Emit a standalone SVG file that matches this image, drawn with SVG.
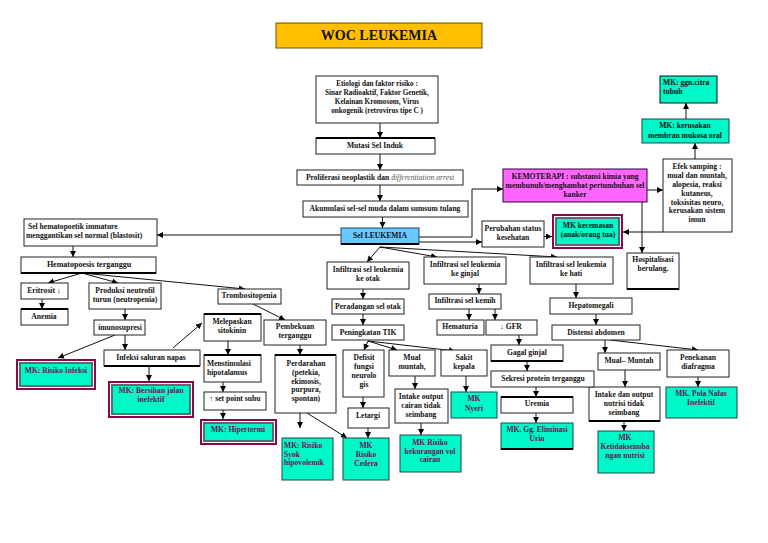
<svg xmlns="http://www.w3.org/2000/svg" width="768" height="543" viewBox="0 0 768 543">
<style>
rect{fill:#fff;stroke:#222;stroke-width:1}
.c{fill:#00f8c8;stroke:#1a4a50}
.f{fill:#00f8c8;stroke:#667;stroke-width:2}
.o{fill:#fff;stroke:#8a0a48;stroke-width:2}
.h{stroke:#000;stroke-width:2}
text{font-family:"Liberation Serif","Times New Roman",serif;font-size:7.600px;font-weight:bold;fill:#111;text-anchor:middle}
.m{fill:#701050}
.l{text-anchor:start}
#etiologi text{font-size:7.200px}
#hematopoesis text{font-size:8px}
#connectors path{fill:none;stroke:#111;stroke-width:1;marker-end:url(#a)}
</style>
<defs><marker id="a" markerUnits="userSpaceOnUse" markerWidth="7" markerHeight="7" refX="6" refY="3" orient="auto"><path d="M0 0L6 3L0 6Z" fill="#000" stroke="none"/></marker></defs>
<g id="connectors">
<path d="M380 123V138"/><path d="M380 154V170"/><path d="M380 185V201"/><path d="M382.500 217V228"/>
<path d="M341 235H157"/><path d="M419 237H472V189H503"/><path d="M419 242H482"/><path d="M544 236.500H552"/>
<path d="M663 232H623"/><path d="M647 190H663"/><path d="M642 202V253"/><path d="M695 159V143"/><path d="M686 119V103"/>
<path d="M380 247L367 262"/><path d="M380 247L437 257"/><path d="M380 247L557 257"/>
<path d="M363 289V299"/><path d="M363 314V325"/>
<path d="M368 341L364 350"/><path d="M368 341L397 350"/><path d="M368 341L455 351"/>
<path d="M363 397V408"/><path d="M368 428V438"/><path d="M415 376V389"/><path d="M421 423V435"/><path d="M466 376V392"/>
<path d="M479 284V294"/><path d="M469 309V320"/><path d="M495 309V320"/><path d="M519 335V345"/><path d="M527 361V371"/><path d="M536 387V397"/><path d="M536 413V423"/>
<path d="M576 284V298"/><path d="M596 314V325"/><path d="M605 340V353"/><path d="M610 340L698 350"/><path d="M625 370V387"/><path d="M624 421V431"/><path d="M698 377V387"/>
<path d="M73 246V257"/><path d="M82 273L48 283"/><path d="M82 273L118 283"/><path d="M82 273L245 289"/>
<path d="M42 299V309"/><path d="M125 309V320"/><path d="M125 335V350"/><path d="M115 335L58 358"/><path d="M149 366V381"/><path d="M173 348L202 323"/>
<path d="M228 341V355"/><path d="M223 382V392"/><path d="M223 410V419"/>
<path d="M253 304L285 320"/><path d="M300 345V355"/><path d="M300 413V428"/><path d="M307 413L347 438"/>
</g>
<g id="title"><rect x="276" y="23" width="206" height="25" style="fill:#ffbf00;stroke:#665000"/><text x="379" y="40" style="font-size:14px">WOC LEUKEMIA</text></g>
<g id="etiologi"><rect x="316" y="76" width="122" height="47"/><text x="377" y="86">Etiologi dan faktor risiko :</text><text x="377" y="95">Sinar Radioaktif, Faktor Genetik,</text><text x="377" y="104">Kelainan Kromosom, Virus</text><text x="377" y="113">onkogenik (retrovirus tipe C )</text></g>
<g id="mutasi"><rect x="316" y="138" width="119" height="16"/><path class="h" d="M316 138H435"/><text x="375" y="148">Mutasi Sel Induk</text></g>
<g id="proliferasi"><rect x="297" y="170" width="166" height="15"/><text x="380" y="180">Proliferasi neoplastik dan <tspan style="font-style:italic;font-weight:normal;fill:#555">differentiation  arrest</tspan></text></g>
<g id="akumulasi"><rect x="303" y="201" width="165" height="16"/><text x="385" y="211">Akumulasi sel-sel muda dalam sumsum tulang</text></g>
<g id="sel-leukemia"><rect x="341" y="228" width="78" height="16" style="fill:#66c8ff;stroke:#246"/><path class="h" d="M341 244H419"/><text x="380" y="238">Sel LEUKEMIA</text></g>
<g id="kemoterapi"><rect x="503" y="169" width="144" height="33" style="fill:#ff66ff;stroke:#303"/><text x="575" y="179">KEMOTERAPI : substansi kimia  yang</text><text x="575" y="188">membunuh/menghambat pertumbuhan sel</text><text x="575" y="197">kanker</text></g>
<g id="perubahan"><rect x="482" y="221" width="62" height="26"/><text x="513" y="231">Perubahan status</text><text x="513" y="240">kesehatan</text></g>
<g id="mk-kecemasan"><rect class="o" x="553" y="215" width="69" height="33"/><rect class="f" x="556" y="218" width="63" height="27"/><text x="588" y="228">MK kecemasan</text><text x="588" y="237">(anak/orang tua)</text></g>
<g id="efek"><rect x="663" y="159" width="69" height="73"/><text x="697" y="169">Efek samping :</text><text x="697" y="178">mual dan muntah,</text><text x="697" y="187">alopesia, reaksi</text><text x="697" y="196">kutaneus,</text><text x="697" y="205">toksisitas neuro,</text><text x="697" y="213">kerusakan sistem</text><text x="697" y="222">imun</text></g>
<g id="mk-kerusakan"><rect class="c" x="642" y="119" width="87" height="24"/><text x="685" y="128">MK: kerusakan</text><text x="685" y="138">membran mukosa oral</text></g>
<g id="mk-citra"><rect class="c" x="660" y="76" width="57" height="27" style="stroke:#111"/><text class="l" x="663" y="85">MK: ggn.citra</text><text class="l" x="663" y="94">tubuh</text></g>
<g id="hospitalisasi"><rect x="627" y="253" width="52" height="36"/><path class="h" d="M627 289H679"/><text x="653" y="262">Hospitalisasi</text><text x="653" y="271">berulang.</text></g>
<g id="inf-otak"><rect x="327" y="262" width="82" height="27"/><text x="368" y="272">Infiltrasi sel leukemia</text><text x="368" y="281">ke otak</text></g>
<g id="inf-ginjal"><rect x="424" y="257" width="82" height="27"/><text x="465" y="267">Infiltrasi sel leukemia</text><text x="465" y="276">ke ginjal</text></g>
<g id="inf-hati"><rect x="530" y="257" width="83" height="27"/><text x="571" y="267">Infiltrasi sel leukemia</text><text x="571" y="276">ke hati</text></g>
<g id="inf-kemih"><rect x="429" y="294" width="72" height="15"/><text x="465" y="303">Infiltrasi sel kemih</text></g>
<g id="hematuria"><rect x="437" y="320" width="47" height="15"/><text x="460" y="329">Hematuria</text></g>
<g id="gfr"><rect x="486" y="320" width="51" height="15"/><text x="511" y="329">↓ GFR</text></g>
<g id="peradangan"><rect x="332" y="299" width="72" height="15"/><text x="368" y="309">Peradangan sel otak</text></g>
<g id="tik"><rect x="332" y="325" width="72" height="15"/><text x="368" y="335">Peningkatan TIK</text></g>
<g id="defisit"><rect x="343" y="350" width="41" height="47"/><text x="364" y="360">Defisit</text><text x="364" y="369">fungsi</text><text x="364" y="378">neurolo</text><text x="364" y="387">gis</text></g>
<g id="mual1"><rect x="389" y="350" width="46" height="26"/><text x="412" y="360">Mual</text><text x="412" y="369">muntah,</text></g>
<g id="sakit"><rect x="441" y="350" width="46" height="26"/><text x="464" y="360">Sakit</text><text x="464" y="369">kepala</text></g>
<g id="letargi"><rect x="348" y="408" width="41" height="20"/><text x="368" y="418">Letargi</text></g>
<g id="intake1"><rect x="395" y="389" width="53" height="34"/><text x="421" y="399">Intake output</text><text x="421" y="408">cairan tidak</text><text x="421" y="417">seimbang</text></g>
<g id="mk-nyeri"><rect class="c" x="451" y="392" width="46" height="26"/><text class="m" x="474" y="401">MK</text><text class="m" x="474" y="411">Nyeri</text></g>
<g id="mk-cedera"><rect class="c" x="343" y="438" width="46" height="42"/><text class="m" x="366" y="448">MK</text><text class="m" x="366" y="457">Risiko</text><text class="m" x="366" y="466">Cedera</text></g>
<g id="mk-kekurangan"><rect class="c" x="400" y="435" width="61" height="37"/><text class="m" x="430" y="445">MK Risiko</text><text class="m" x="430" y="454">kekurangan vol</text><text class="m" x="430" y="462">cairan</text></g>
<g id="mk-syok"><rect class="c" x="282" y="438" width="51" height="42"/><text class="m l" x="284" y="448">MK: Risiko</text><text class="m l" x="284" y="457">Syok</text><text class="m l" x="284" y="465">hipovolemik</text></g>
<g id="perdarahan"><rect x="275" y="355" width="61" height="58"/><path class="h" d="M275 355H336"/><text x="306" y="366">Perdarahan</text><text x="306" y="375">(petekia,</text><text x="306" y="384">ekimosis,</text><text x="306" y="392">purpura,</text><text x="306" y="401">spontan)</text></g>
<g id="pembekuan"><rect x="264" y="320" width="62" height="25"/><text x="295" y="329">Pembekuan</text><text x="295" y="338">terganggu</text></g>
<g id="melepaskan"><rect x="204" y="314" width="57" height="27"/><path class="h" d="M204 314H261"/><text x="232" y="324">Melepaskan</text><text x="232" y="333">sitokinin</text></g>
<g id="menstimulasi"><rect x="204" y="355" width="57" height="27"/><path class="h" d="M204 355H261"/><text class="l" x="207" y="366">Menstimulasi</text><text class="l" x="207" y="375">hipotalamus</text></g>
<g id="setpoint"><rect x="204" y="392" width="62" height="18"/><text x="235" y="401">↑ set point suhu</text></g>
<g id="mk-hipertermi"><rect class="o" x="201" y="420" width="75" height="24"/><rect class="f" x="204" y="423" width="69" height="18"/><text class="m" x="238" y="432">MK: Hipertermi</text></g>
<g id="sel-hemato"><rect x="24" y="219" width="133" height="27"/><text class="l" x="28" y="229">Sel hematopoetik immature</text><text class="l" x="26" y="238">menggantikan sel normal (blastosit)</text></g>
<g id="hematopoesis"><rect x="21" y="257" width="135" height="16"/><path class="h" d="M21 273H156"/><text x="89" y="267">Hematopoesis terganggu</text></g>
<g id="eritrosit"><rect x="21" y="283" width="47" height="16"/><text x="44" y="293">Eritrosit ↓</text></g>
<g id="anemia"><rect x="21" y="309" width="47" height="16"/><path class="h" d="M21 309H68"/><text x="44" y="319">Anemia</text></g>
<g id="produksi"><rect x="89" y="283" width="72" height="26"/><text x="125" y="293">Produksi neutrofil</text><text x="125" y="302">turun (neutropenia)</text></g>
<g id="imunosupresi"><rect x="94" y="320" width="51" height="15"/><text x="120" y="330">imunosupresi</text></g>
<g id="infeksi"><rect x="104" y="350" width="96" height="16"/><path class="h" d="M104 366H200"/><text x="151" y="360">Infeksi saluran napas</text></g>
<g id="trombosit"><rect x="218" y="289" width="63" height="15"/><text x="249" y="298">Trombositopenia</text></g>
<g id="mk-infeksi"><rect class="o" x="17" y="360" width="78" height="29"/><rect class="f" x="20" y="363" width="72" height="23"/><text class="m" x="56" y="373">MK: Risiko Infeksi</text></g>
<g id="mk-bersihan"><rect class="o" x="109" y="382" width="84" height="35"/><rect class="f" x="112" y="385" width="78" height="29"/><text class="m" x="151" y="393">MK: Bersihan jalan</text><text class="m" x="151" y="402">inefektif</text></g>
<g id="hepatomegali"><rect x="550" y="298" width="82" height="16"/><text x="591" y="308">Hepatomegali</text></g>
<g id="distensi"><rect x="552" y="325" width="88" height="15"/><text x="596" y="335">Distensi abdomen</text></g>
<g id="mual2"><rect x="598" y="353" width="62" height="17"/><text x="629" y="363">Mual– Muntah</text></g>
<g id="penekanan"><rect x="667" y="350" width="62" height="27"/><text x="698" y="360">Penekanan</text><text x="698" y="369">diafragma</text></g>
<g id="mk-pola"><rect class="c" x="666" y="387" width="71" height="31"/><text class="m" x="701" y="396">MK. Pola Nafas</text><text class="m" x="701" y="405">Inefektif</text></g>
<g id="intake2"><rect x="589" y="387" width="71" height="34"/><path class="h" d="M589 421H660"/><text x="624" y="397">Intake dan output</text><text x="624" y="406">nutrisi tidak</text><text x="624" y="415">seimbang</text></g>
<g id="mk-ketidak"><rect class="c" x="598" y="431" width="56" height="42"/><text class="m" x="625" y="440">MK</text><text class="m" x="625" y="449">Ketidakseimba</text><text class="m" x="625" y="458">ngan nutrisi</text></g>
<g id="gagal"><rect x="491" y="345" width="72" height="16"/><path class="h" d="M491 361H563"/><text x="527" y="355">Gagal ginjal</text></g>
<g id="sekresi"><rect x="491" y="371" width="103" height="16"/><text x="543" y="381">Sekresi protein terganggu</text></g>
<g id="uremia"><rect x="501" y="397" width="72" height="16"/><path class="h" d="M501 397H573"/><text x="537" y="406">Uremia</text></g>
<g id="mk-eliminasi"><rect class="c" x="501" y="423" width="72" height="26"/><path class="h" d="M501 449H573"/><text class="m" x="537" y="432">MK. Gg. Eliminasi</text><text class="m" x="537" y="441">Urin</text></g>
</svg>
